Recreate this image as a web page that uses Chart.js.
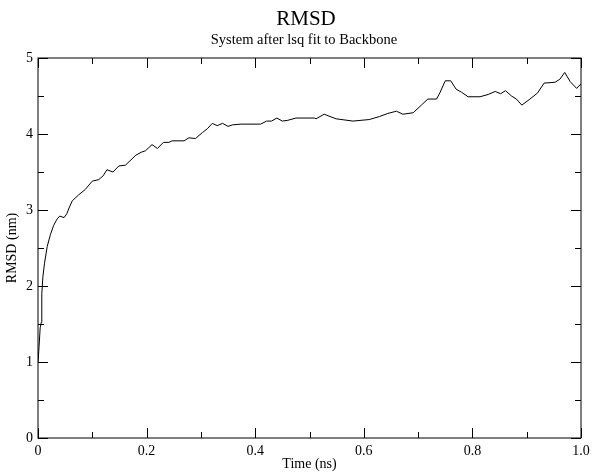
<!DOCTYPE html>
<html>
<head>
<meta charset="utf-8">
<script src="https://cdn.jsdelivr.net/npm/chart.js@4"></script>
<style>
  html, body { margin: 0; padding: 0; background: #fff; }
  #wrap { width: 600px; height: 473px; }
</style>
</head>
<body>
<div id="wrap"><canvas id="rmsdChart"></canvas></div>
<script>
// RMSD data (time in ns, RMSD in nm)
const timeNs = [0.000, 0.002, 0.004, 0.006, 0.007, 0.009, 0.012, 0.017, 0.023, 0.029,
  0.035, 0.040, 0.048, 0.053, 0.058, 0.063, 0.075, 0.087, 0.100, 0.112,
  0.120, 0.127, 0.138, 0.149, 0.161, 0.180, 0.190, 0.198, 0.210, 0.220,
  0.231, 0.241, 0.247, 0.269, 0.278, 0.290, 0.303, 0.312, 0.321, 0.330,
  0.340, 0.350, 0.358, 0.374, 0.410, 0.421, 0.430, 0.440, 0.450, 0.460,
  0.475, 0.509, 0.512, 0.527, 0.549, 0.580, 0.610, 0.629, 0.644, 0.660,
  0.672, 0.691, 0.706, 0.718, 0.734, 0.740, 0.750, 0.760, 0.770, 0.780,
  0.792, 0.814, 0.829, 0.842, 0.852, 0.861, 0.872, 0.881, 0.891, 0.906,
  0.920, 0.932, 0.952, 0.961, 0.970, 0.980, 0.992, 1.000];
const rmsdNm = [0.99, 1.21, 1.45, 1.52, 1.90, 2.12, 2.30, 2.52, 2.68, 2.80,
  2.88, 2.92, 2.90, 2.95, 3.04, 3.12, 3.20, 3.27, 3.38, 3.40,
  3.45, 3.53, 3.50, 3.58, 3.59, 3.72, 3.76, 3.78, 3.86, 3.81,
  3.89, 3.89, 3.91, 3.91, 3.95, 3.94, 4.02, 4.07, 4.14, 4.11,
  4.14, 4.10, 4.12, 4.13, 4.13, 4.17, 4.17, 4.21, 4.17, 4.18,
  4.21, 4.21, 4.20, 4.26, 4.20, 4.17, 4.19, 4.23, 4.27, 4.30,
  4.26, 4.28, 4.38, 4.46, 4.46, 4.54, 4.70, 4.70, 4.59, 4.55,
  4.49, 4.49, 4.52, 4.56, 4.53, 4.57, 4.50, 4.46, 4.38, 4.46,
  4.54, 4.67, 4.68, 4.72, 4.81, 4.69, 4.60, 4.66];

const xMajor = [0, 0.2, 0.4, 0.6, 0.8, 1];
const xMinor = [0.1, 0.3, 0.5, 0.7, 0.9];
const yMajor = [0, 1, 2, 3, 4, 5];
const yMinor = [0.5, 1.5, 2.5, 3.5, 4.5];

const titleText = 'RMSD';
const subtitleText = 'System after lsq fit to Backbone';

Chart.defaults.font.family = '"Liberation Serif", "DejaVu Serif", serif';
Chart.defaults.color = '#000';

// frame, inward ticks on all four sides, and the titles
const xmgrFrame = {
  id: 'xmgrFrame',
  afterDraw(chart) {
    const ctx = chart.ctx;
    const a = chart.chartArea;
    const xs = chart.scales.x;
    const ys = chart.scales.y;
    ctx.save();
    ctx.strokeStyle = '#000';
    ctx.lineWidth = 1;
    ctx.strokeRect(a.left, a.top, a.right - a.left, a.bottom - a.top);

    function xTick(v, len) {
      const px = Math.round(xs.getPixelForValue(v)) + 0.5;
      ctx.beginPath();
      ctx.moveTo(px, a.bottom); ctx.lineTo(px, a.bottom - len);
      ctx.moveTo(px, a.top); ctx.lineTo(px, a.top + len);
      ctx.stroke();
    }
    function yTick(v, len) {
      const py = Math.round(ys.getPixelForValue(v)) + 0.5;
      ctx.beginPath();
      ctx.moveTo(a.left, py); ctx.lineTo(a.left + len, py);
      ctx.moveTo(a.right, py); ctx.lineTo(a.right - len, py);
      ctx.stroke();
    }
    xMajor.forEach(v => xTick(v, 10));
    xMinor.forEach(v => xTick(v, 6));
    yMajor.forEach(v => yTick(v, 10));
    yMinor.forEach(v => yTick(v, 6));

    ctx.fillStyle = '#000';
    ctx.textAlign = 'center';
    ctx.textBaseline = 'alphabetic';
    ctx.font = '21px "Liberation Serif", serif';
    ctx.fillText(titleText, 306, 25);
    ctx.font = '14.5px "Liberation Serif", serif';
    ctx.fillText(subtitleText, 304, 44);
    ctx.restore();
  }
};

const ctx = document.getElementById('rmsdChart').getContext('2d');
const rmsdChart = new Chart(ctx, {
  type: 'line',
  data: {
    datasets: [{
      label: 'RMSD',
      data: timeNs.map((t, i) => ({ x: t, y: rmsdNm[i] })),
      borderColor: '#000',
      borderWidth: 1,
      pointRadius: 0,
      tension: 0,
      fill: false
    }]
  },
  options: {
    responsive: true,
    maintainAspectRatio: false,
    animation: false,
    layout: { padding: { top: 58, right: 19, bottom: 0, left: 0 } },
    plugins: {
      legend: { display: false },
      tooltip: { enabled: false }
    },
    scales: {
      x: {
        type: 'linear',
        min: 0,
        max: 1,
        afterFit: s => { s.height = 35; },
        afterBuildTicks: s => { s.ticks = xMajor.map(v => ({ value: v })); },
        grid: { display: false, drawTicks: false },
        border: { display: false },
        ticks: { padding: 5, font: { size: 14 } },
        title: { display: true, text: 'Time (ns)', font: { size: 14 }, padding: { top: 0, bottom: 0 } }
      },
      y: {
        type: 'linear',
        min: 0,
        max: 5,
        afterFit: s => { s.width = 38; },
        afterBuildTicks: s => { s.ticks = yMajor.map(v => ({ value: v })); },
        grid: { display: false, drawTicks: false },
        border: { display: false },
        ticks: { padding: 5, font: { size: 14 } },
        title: { display: true, text: 'RMSD (nm)', font: { size: 14 }, padding: { top: 4, bottom: 0 } }
      }
    }
  },
  plugins: [xmgrFrame]
});
</script>
</body>
</html>
